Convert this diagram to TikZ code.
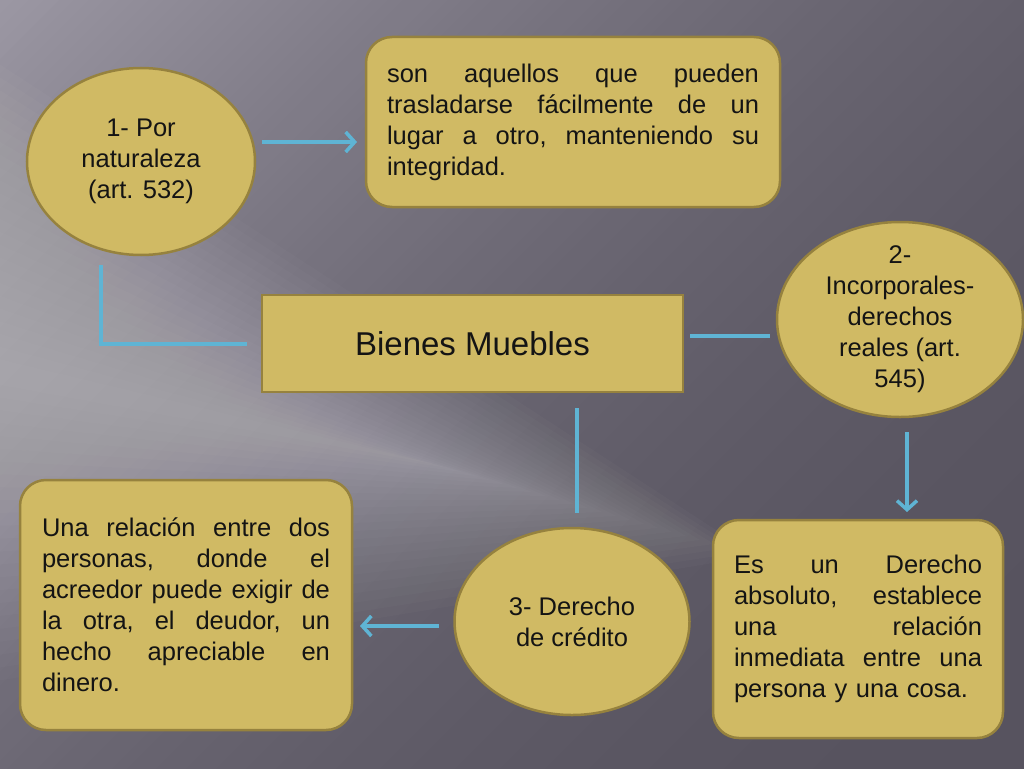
\documentclass[tikz,border=0pt]{standalone}
\usepackage{fontspec}
\setmainfont{Liberation Sans}
\usetikzlibrary{shapes.geometric,arrows.meta,calc}
\definecolor{khaki}{RGB}{208,186,100}
\definecolor{khakiedge}{RGB}{150,130,62}
\definecolor{connblue}{RGB}{95,180,212}
\definecolor{ink}{RGB}{20,20,20}
\newcommand{\jl}[2]{\leavevmode\hbox to #1{#2}}
\tikzset{
  shapestyle/.style={draw=khakiedge, line width=2.5pt, fill=khaki, inner sep=0pt, outer sep=0pt},
  textbox/.style={shapestyle, rounded corners=26pt, align=left, text=ink,
    font=\fontsize{25.5}{31}\selectfont},
  oval/.style={shapestyle, ellipse},
  ovaltext/.style={align=center, text=ink, font=\fontsize{25.5}{31}\selectfont},
  link/.style={draw=connblue, line width=4pt},
  arrowlink/.style={link, -{Straight Barb[length=9pt,width=20pt,line width=3.5pt]}},
}
\begin{document}
\begin{tikzpicture}[x=1pt,y=-1pt]
\useasboundingbox (0,0) rectangle (1024,768);
% background gradient
\begin{scope}
\clip (0,0) rectangle (1024,768);
\foreach \i in {0,...,119}{
  \pgfmathsetmacro{\s}{\i*14.9333}
  \pgfmathsetmacro{\t}{\s+16.5}
  \pgfmathsetmacro{\p}{(\i+0.5)/120}
  \pgfmathsetmacro{\L}{87+69*(1-\p)*(1-\p)}
  \pgfmathtruncatemacro{\R}{\L}
  \pgfmathtruncatemacro{\G}{\L-4}
  \pgfmathtruncatemacro{\B}{\L+8}
  \definecolor{bgc}{RGB}{\R,\G,\B}
  \fill[bgc] (\s+200,-200) -- (\t+200,-200) -- (\t-1000,1000) -- (\s-1000,1000) -- cycle;
}
\foreach \k in {1,...,24}{
  \fill[white, fill opacity=0.018] (-10,{370-13*\k}) -- ({420+14*\k},{460+4*\k}) -- (-10,{370+13*\k}) -- cycle;
}
\end{scope}

% shapes
\node[oval, minimum width=228pt, minimum height=187pt] (e1) at (141,161.5) {};
\node[ovaltext] (e1t) at (e1.center) {1- Por\\naturaleza\\(art. 532)};

\node[textbox, minimum width=414pt, minimum height=170pt, text width=372pt] (b1) at (573,122)
  {\jl{372pt}{son\hfill aquellos\hfill que\hfill pueden}\\
   \jl{372pt}{trasladarse\hfill fácilmente\hfill de\hfill un}\\
   \jl{372pt}{lugar\hfill a\hfill otro,\hfill manteniendo\hfill su}\\
   integridad.};

\node[shapestyle, minimum width=421pt, minimum height=97pt, text=ink,
  font=\fontsize{33}{38}\selectfont] (bm) at (472.5,343.5) {Bienes Muebles};

\node[oval, minimum width=246pt, minimum height=195pt] (e2) at (900,319.5) {};
\node[ovaltext] (e2t) at (e2.center) {2-\\Incorporales-\\derechos\\reales (art.\\545)};

\node[textbox, minimum width=290pt, minimum height=218pt, text width=248pt] (b2) at (858,629)
  {\jl{248pt}{Es\hfill un\hfill Derecho}\\
   \jl{248pt}{absoluto,\hfill establece}\\
   \jl{248pt}{una\hfill relación}\\
   \jl{248pt}{inmediata\hfill entre\hfill una}\\
   persona y una cosa.};

\node[oval, minimum width=235pt, minimum height=187pt] (e3) at (572,621.5) {};
\node[ovaltext] (e3t) at (e3.center) {3- Derecho\\de crédito};

\node[textbox, minimum width=332pt, minimum height=250pt, text width=288pt] (b3) at (186,605)
  {\jl{288pt}{Una\hfill relación\hfill entre\hfill dos}\\
   \jl{288pt}{personas,\hfill donde\hfill el}\\
   \jl{288pt}{acreedor\hfill puede\hfill exigir\hfill de}\\
   \jl{288pt}{la\hfill otra,\hfill el\hfill deudor,\hfill un}\\
   \jl{288pt}{hecho\hfill apreciable\hfill en}\\
   dinero.};

% connectors
\draw[arrowlink] ([shift={(7,-19.5)}]e1.east) -- ([shift={(-9,20)}]b1.west);
\draw[link] ([shift={(-40,10)}]e1.south) |- ([shift={(-15,0)}]bm.west);
\draw[link] ([shift={(7,-7.5)}]bm.east) -- ([shift={(-7,16.5)}]e2.west);
\draw[arrowlink] ([shift={(7,15)}]e2.south) -- ([shift={(49,-8)}]b2.north);
\draw[link] ([shift={(104.5,16)}]bm.south) -- ([shift={(5,-15)}]e3.north);
\draw[arrowlink] ([shift={(-16,4.5)}]e3.west) -- ([shift={(8,21)}]b3.east);
\end{tikzpicture}
\end{document}
